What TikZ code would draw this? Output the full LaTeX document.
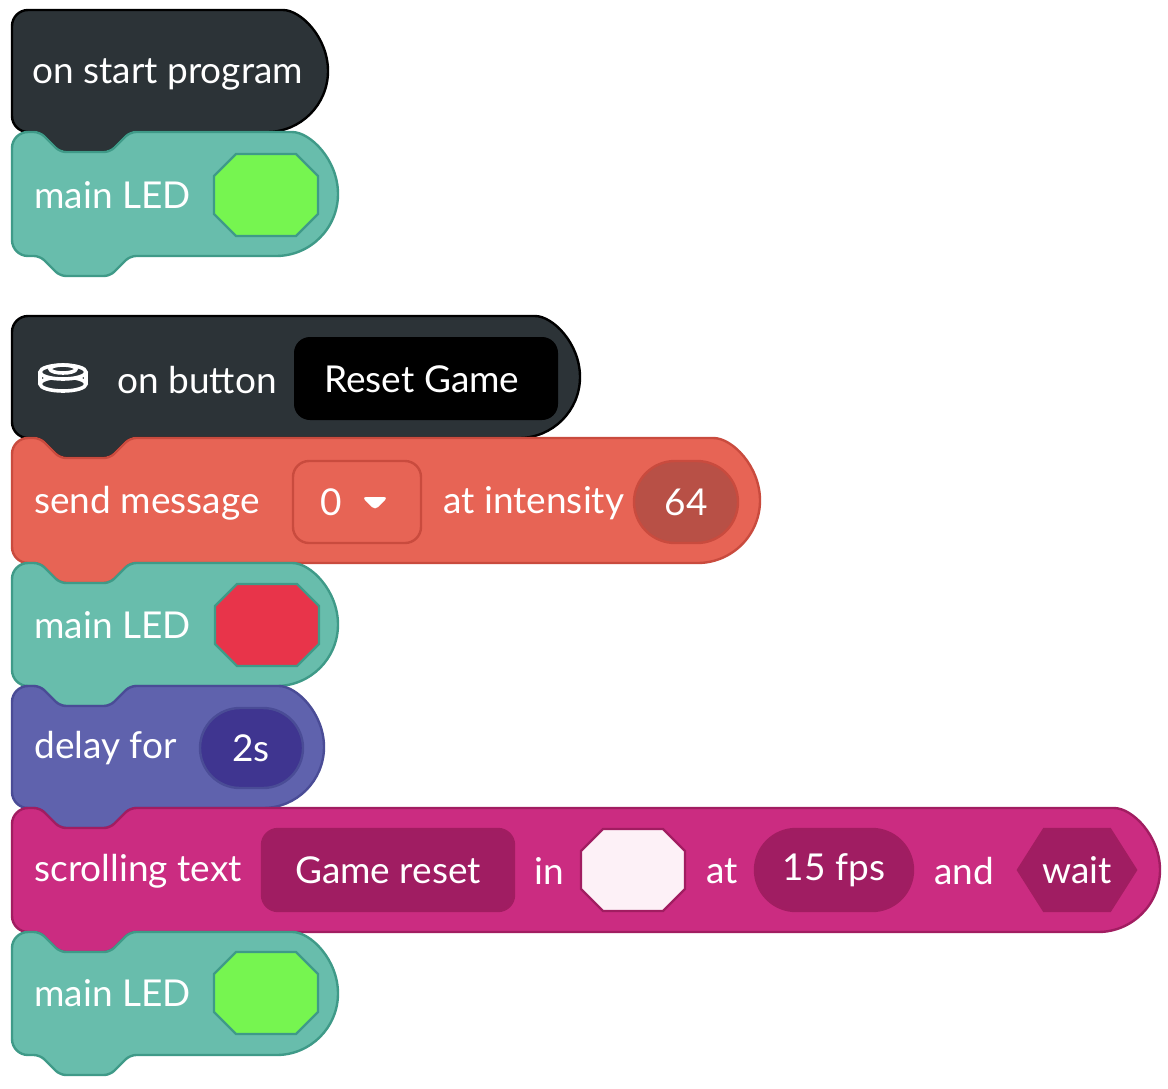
\documentclass[tikz,border=0pt]{standalone}
\usepackage{fontspec}
\setmainfont{Lato}
\definecolor{hatdark}{HTML}{2C3337}
\definecolor{ledteal}{HTML}{68BDAC}
\definecolor{ledline}{HTML}{3F9A88}
\definecolor{ledgreen}{HTML}{76F550}
\definecolor{ledred}{HTML}{E8344A}
\definecolor{msgred}{HTML}{E76455}
\definecolor{msgline}{HTML}{C94B3E}
\definecolor{msgpill}{HTML}{B85046}
\definecolor{delayblue}{HTML}{5F62AD}
\definecolor{delayline}{HTML}{4A4C96}
\definecolor{delaypill}{HTML}{3F3590}
\definecolor{textpink}{HTML}{CB2C81}
\definecolor{textline}{HTML}{A11D61}
\definecolor{textinner}{HTML}{A01D62}
\definecolor{ledwhite}{HTML}{FDF1F7}
% block outline: x1, y1, x2, y2, fill, line, top part
\newcommand{\blk}[7]{%
  \pgfmathsetmacro\rr{(#4-#2)/2}
  \filldraw[fill=#5,draw=#6,line width=1.2pt,rounded corners=8]
    (#1,#2+40) -- (#1,#2) [rounded corners=3] #7 [rounded corners=8] -- (#3-\rr,#2) [sharp corners]
    arc[start angle=-90,end angle=90,radius=\rr] [rounded corners=3]
    -- (130,#4) -- (110,#4+20) -- (60,#4+20) -- (40,#4) [rounded corners=8] -- (#1,#4) -- cycle;}
\newcommand{\notch}[1]{-- (40,#1) -- (60,#1+20) -- (110,#1+20) -- (130,#1)}
% pill: x1, y1, x2, y2, fill, line
\newcommand{\pill}[6]{%
  \pgfmathsetmacro\pr{(#4-#2)/2}
  \filldraw[fill=#5,draw=#6,line width=1.2pt]
    (#1+\pr,#2) -- (#3-\pr,#2) arc[start angle=-90,end angle=90,radius=\pr]
    -- (#1+\pr,#4) arc[start angle=90,end angle=270,radius=\pr] -- cycle;}
% octagon: cx, cy, fill, line
\newcommand{\oct}[4]{%
  \filldraw[fill=#3,draw=#4,line width=1.2pt]
    (#1-52,#2-19) -- (#1-30,#2-41) -- (#1+30,#2-41) -- (#1+52,#2-19)
    -- (#1+52,#2+19) -- (#1+30,#2+41) -- (#1-30,#2+41) -- (#1-52,#2+19) -- cycle;}
\tikzset{
  lbl/.style={anchor=west,text=white,font=\fontsize{18.5}{22}\selectfont,inner sep=0pt},
}
\begin{document}
\begin{tikzpicture}[x=0.5pt,y=-0.5pt]
\useasboundingbox (0,0) rectangle (1168,1088);
% first stack
\blk{12}{10}{328}{132}{hatdark}{black}{}
\node[lbl] (start) at (32,74) {on start program};
\blk{12}{132}{338}{256}{ledteal}{ledline}{\notch{132}}
\node[lbl] (led1) at (34,195) {main LED};
\oct{266}{195}{ledgreen}{ledline}
% second stack
\blk{12}{316}{580}{438}{hatdark}{black}{}
\draw[white,line width=1.8pt] (40,372) -- (40,384) (86,372) -- (86,384);
\draw[white,line width=1.8pt,fill=hatdark] (63,384) ellipse[x radius=23,y radius=7];
\draw[white,line width=1.8pt,fill=hatdark] (63,372) ellipse[x radius=23,y radius=7];
\draw[white,line width=1.8pt,fill=hatdark] (63,369) ellipse[x radius=13,y radius=4];
\node[lbl] (button) at (117,380) {on button};
\fill[black,rounded corners=8] (294,337) rectangle (558,420);
\node[lbl] (reset) at (324,379) {Reset Game};
\blk{12}{438}{760}{563}{msgred}{msgline}{\notch{438}}
\node[lbl] (send) at (34,503) {send message};
\draw[msgline,line width=1.2pt,rounded corners=8] (293,461) rectangle (421,543);
\node[lbl] (zero) at (320,502) {0};
\fill[white,rounded corners=2] (362,497) -- (388,497) -- (375,510) -- cycle;
\node[lbl] (intensity) at (443,503) {at intensity};
\pill{634}{461}{738}{543}{msgpill}{msgline}
\node[lbl,anchor=center] (sixtyfour) at (686,502) {64};
\blk{12}{563}{338}{686}{ledteal}{ledline}{\notch{563}}
\node[lbl] (led2) at (34,625) {main LED};
\oct{267}{625}{ledred}{ledline}
\blk{12}{686}{324}{808}{delayblue}{delayline}{\notch{686}}
\node[lbl] (delay) at (34,748) {delay for};
\pill{200}{708}{303}{788}{delaypill}{delayline}
\node[lbl,anchor=center] (twos) at (251,748) {2s};
\blk{12}{808}{1160}{932}{textpink}{textline}{\notch{808}}
\node[lbl] (scroll) at (34,871) {scrolling text};
\filldraw[fill=textinner,draw=textline,line width=1.2pt,rounded corners=8] (262,829) rectangle (514,911);
\node[lbl,anchor=center] (gamereset) at (388,870) {Game reset};
\node[lbl] (in) at (534,871) {in};
\oct{633}{870}{ledwhite}{textline}
\node[lbl] (at) at (706,871) {at};
\pill{755}{829}{913}{911}{textinner}{textline}
\node[lbl,anchor=center] (fps) at (834,870) {15 fps};
\node[lbl] (and) at (934,871) {and};
\filldraw[fill=textinner,draw=textline,line width=1.2pt] (1018,870) -- (1044,829) -- (1110,829) -- (1136,870) -- (1110,911) -- (1044,911) -- cycle;
\node[lbl,anchor=center] (wait) at (1077,870) {wait};
\blk{12}{932}{338}{1055}{ledteal}{ledline}{\notch{932}}
\node[lbl] (led3) at (34,993) {main LED};
\oct{266}{993}{ledgreen}{ledline}
\end{tikzpicture}
\end{document}
